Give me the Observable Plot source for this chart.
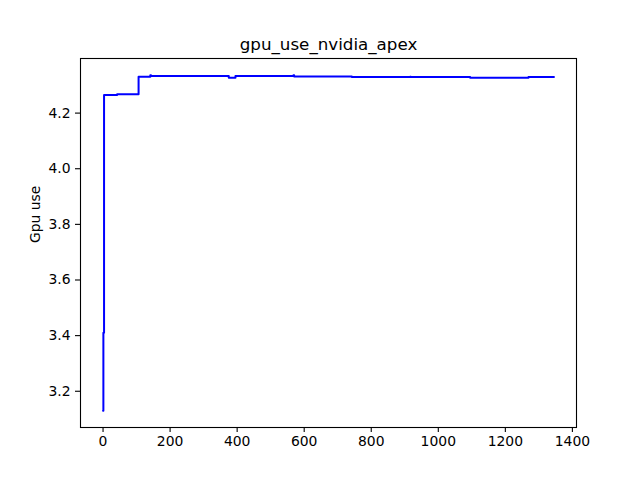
<!DOCTYPE html>
<html>
<head>
<meta charset="utf-8">
<script src="https://cdn.jsdelivr.net/npm/d3@7"></script>
<script src="https://cdn.jsdelivr.net/npm/@observablehq/plot@0.6"></script>
<style>
  html, body { margin: 0; padding: 0; background: #fff; }
  #chart svg { display: block; }
</style>
</head>
<body>
<div id="chart"></div>
<script>
const title = "gpu_use_nvidia_apex";
const yLabel = "Gpu use";
const steps = [0, 1, 3, 42, 106, 141, 143, 375, 395, 568, 570, 742, 916, 918, 1095, 1269, 1345];
const gpuUse = [3.13, 3.41, 4.265, 4.268, 4.331, 4.336, 4.333, 4.327, 4.333, 4.336, 4.332, 4.3295, 4.331, 4.3295, 4.327, 4.3295, 4.3295];
const xTicks = [0, 200, 400, 600, 800, 1000, 1200, 1400];
const yTicks = [3.2, 3.4, 3.6, 3.8, 4.0, 4.2];

const data = steps.map((s, i) => ({step: s, value: gpuUse[i]}));
const xmin = d3.min(steps), xmax = d3.max(steps);
const ymin = d3.min(gpuUse), ymax = d3.max(gpuUse);
const xm = (xmax - xmin) * 0.05, ym = (ymax - ymin) * 0.05;

const chart = Plot.plot({
  width: 640,
  height: 480,
  marginLeft: 80,
  marginRight: 64,
  marginTop: 58,
  marginBottom: 53,
  style: {fontFamily: "DejaVu Sans", fontSize: "13.9px", background: "#fff", color: "#000"},
  x: {domain: [xmin - xm, xmax + xm]},
  y: {domain: [ymin - ym, ymax + ym]},
  marks: [
    Plot.axisX({ticks: xTicks, tickSize: 5, tickPadding: 4, tickFormat: d3.format("d"), label: null, strokeWidth: 1.1}),
    Plot.axisY({ticks: yTicks, tickSize: 5, tickPadding: 5, tickFormat: d3.format(".1f"), label: null, strokeWidth: 1.1}),
    Plot.line(data, {x: "step", y: "value", curve: "step-after", stroke: "#0000ff", strokeWidth: 2}),
    Plot.frame({stroke: "#000", strokeWidth: 1.1}),
    Plot.text([title], {frameAnchor: "top", dy: -20, fontSize: 16.7, fill: "#000"}),
    Plot.text([yLabel], {frameAnchor: "left", dx: -45, rotate: -90, fontSize: 13.9, fill: "#000"})
  ]
});
document.getElementById("chart").appendChild(chart);
</script>
</body>
</html>
